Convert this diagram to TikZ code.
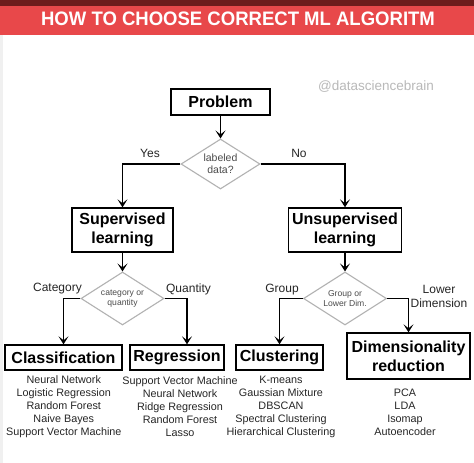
\documentclass[tikz,border=0pt]{standalone}
\usepackage{fontspec}
\setmainfont{Liberation Sans}
\usetikzlibrary{shapes.geometric,arrows.meta}
\definecolor{bandred}{HTML}{E8484A}
\definecolor{banddark}{HTML}{6E1C1C}

\begin{document}
\begin{tikzpicture}[x=1pt,y=-1pt,
    box/.style={draw,line width=1.4pt,inner sep=2pt,align=center,
      font=\bfseries\fontsize{16}{19}\selectfont},
    quest/.style={diamond,draw=gray!60,line width=1.1pt,inner sep=0pt,
      aspect=1.6,align=center,text=black!70},
    lbl/.style={font=\fontsize{12}{14}\selectfont,text=black!85,align=center},
    algo/.style={font=\fontsize{10.8}{13}\selectfont,text=black!85,align=center},
    arr/.style={line width=1.8pt,-{Stealth[length=8pt,width=10pt,inset=4pt]}}]
  \useasboundingbox (0,0) rectangle (474,463);
  \fill[white] (0,0) rectangle (474,463);
  \fill[gray!12] (0,35) rectangle (3,463);
  % header
  \fill[banddark] (0,0) rectangle (474,6);
  \fill[bandred] (0,6) rectangle (474,35);
  \node[text=white,font=\bfseries\fontsize{19.5}{22}\selectfont] (title) at (238,19)
    {\scalebox{0.95}[1]{HOW TO CHOOSE CORRECT ML ALGORITM}};
  \node[text=gray!55,font=\fontsize{13.5}{16}\selectfont] (tag) at (376,87) {@datasciencebrain};

  % decisions
  \node[box,minimum width=99pt,minimum height=26pt] (prob) at (220.5,102) {Problem};
  \node[quest,minimum width=79pt,minimum height=50pt,font=\fontsize{10.5}{12}\selectfont]
    (q1) at (220.5,164) {labeled\\data?};
  \node[box,minimum width=101pt,minimum height=44pt] (sup) at (122.5,230) {Supervised\\learning};
  \node[box,minimum width=113pt,minimum height=44pt] (unsup) at (345,230) {Unsupervised\\learning};
  \node[quest,minimum width=83pt,minimum height=53pt,font=\fontsize{8.6}{10}\selectfont]
    (q2) at (122.5,298.5) {category or\\quantity};
  \node[quest,minimum width=83pt,minimum height=53pt,font=\fontsize{8.6}{10}\selectfont]
    (q3) at (345,298.5) {Group or\\Lower Dim.};

  \node[lbl] (yes) at (150,153) {Yes};
  \node[lbl] (no) at (299,153) {No};
  \node[lbl] (cat) at (57.5,289) {Category};
  \node[lbl] (qty) at (188.5,289) {Quantity};
  \node[lbl] (grp) at (282,290) {Group};
  \node[lbl] (low) at (439,296) {Lower\\Dimension};

  % results
  \node[box,minimum width=117pt,minimum height=25pt] (cls) at (63.5,357.5) {Classification};
  \node[box,minimum width=94pt,minimum height=25pt] (reg) at (177,357.5) {Regression};
  \node[box,minimum width=87pt,minimum height=25pt] (clu) at (279.5,357.5) {Clustering};
  \node[box,minimum width=123pt,minimum height=46pt] (dim) at (408.5,356) {Dimensionality\\reduction};

  \node[algo] (clslist) at (63.8,407) {Neural Network\\Logistic Regression\\Random Forest\\Naive Bayes\\Support Vector Machine};
  \node[algo] (reglist) at (180,407) {Support Vector Machine\\Neural Network\\Ridge Regression\\Random Forest\\Lasso};
  \node[algo] (clulist) at (281,407) {K-means\\Gaussian Mixture\\DBSCAN\\Spectral Clustering\\Hierarchical Clustering};
  \node[algo] (dimlist) at (405,412.5) {PCA\\LDA\\Isomap\\Autoencoder};

  % arrows
  \draw[arr] (prob) -- (q1);
  \draw[arr] (q1.west) -| (sup);
  \draw[arr] (q1.east) -| (unsup);
  \draw[arr] (sup) -- (q2);
  \draw[arr] (unsup) -- (q3);
  \draw[arr] (q2.west) -| (cls);
  \draw[arr] (q2.east) -| ([xshift=10pt]reg.north);
  \draw[arr] (q3.west) -| (clu);
  \draw[arr] (q3.east) -| (dim);
\end{tikzpicture}
\end{document}
